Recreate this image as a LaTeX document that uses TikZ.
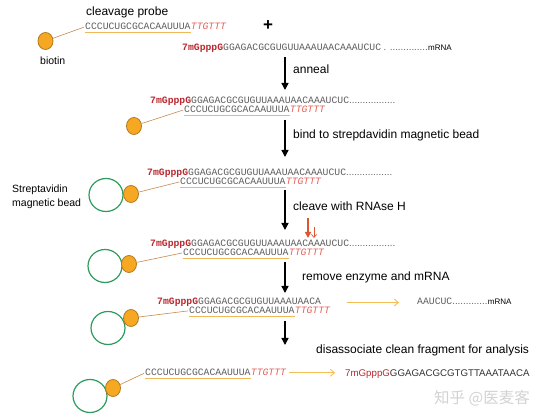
\documentclass[tikz,border=0pt]{standalone}
\usepackage{fontspec}
\setmainfont{Liberation Sans}
\newfontfamily\seqfont{Liberation Mono}
\newfontfamily\cjkfont{Noto Sans CJK SC}
\usetikzlibrary{arrows.meta,shapes.geometric}
\definecolor{capred}{HTML}{B8282E}
\definecolor{tred}{HTML}{E0605A}
\definecolor{seqgray}{HTML}{5E5E5E}
\definecolor{biofill}{HTML}{F7A823}
\definecolor{biodraw}{HTML}{B07A1E}
\definecolor{beadgreen}{HTML}{2E9B5E}
\definecolor{tethercol}{HTML}{C8884A}
\definecolor{ulcol}{HTML}{F0B85A}
\definecolor{oarrowcol}{HTML}{F2BE55}
\definecolor{cutred}{HTML}{E0552E}
\newcommand{\capg}{{\bfseries\color{capred}7mGpppG}}
\tikzset{
  seq/.style={font=\seqfont\fontsize{9.75}{10}\selectfont, text=seqgray, inner sep=0pt, anchor=base west},
  tseq/.style={font=\seqfont\itshape\fontsize{9.75}{10}\selectfont, text=tred, inner sep=0pt, anchor=base west},
  lab/.style={font=\fontsize{12}{14}\selectfont, inner sep=0pt, anchor=base west},
  smalllab/.style={font=\fontsize{8}{9}\selectfont, inner sep=0pt, anchor=base west},
  bio/.style={ellipse, draw=biodraw, fill=biofill, line width=0.8pt, minimum width=15pt, minimum height=17pt, inner sep=0pt},
  bead/.style={ellipse, draw=beadgreen, line width=1.2pt, minimum width=34pt, minimum height=33pt, inner sep=0pt},
  tetherline/.style={draw=tethercol, line width=0.6pt, shorten >=1pt},
  ul/.style={draw=ulcol, line width=0.8pt},
  flow/.style={-{Triangle[width=7pt,length=7pt]}, line width=1.4pt},
  oarr/.style={draw=oarrowcol, line width=0.9pt, -{Straight Barb[length=4pt,width=7pt]}},
}
\begin{document}
\begin{tikzpicture}[x=1pt,y=-1pt]
\useasboundingbox (0,0) rectangle (554,419);

% ---------- panel 1
\node[lab] (title) at (86,16) {cleavage probe};
\node[seq] (p1) at (85,30) {CCCUCUGCGCACAAUUUA};
\node[tseq] (p1t) at (p1.base east) {TTGTTT};
\draw[ul] ([yshift=-2pt]p1.base west) -- ([yshift=-2pt]p1.base east);
\node[bio] (b1) at (45.5,41) {};
\draw[tetherline] (b1) -- (p1.west);
\node[font=\fontsize{10.5}{12}\selectfont, inner sep=0pt, anchor=base west] (biotinlbl) at (40,65) {biotin};
\node[font=\bfseries\fontsize{17}{17}\selectfont, inner sep=0pt] (plus) at (268,26) {+};
\node[seq] (m1) at (182,51) {\capg GGAGACGCGUGUUAAAUAACAAAUCUC};
\node[seq, font=\fontsize{9.75}{10}\selectfont] (d1) at ([xshift=2pt]m1.base east) {. ..............};
\node[smalllab] (mr1) at (d1.base east) {mRNA};

\coordinate (a1s) at (285,57);
\coordinate (a1e) at (285,90);
\draw[flow] (a1s) -- (a1e);
\node[lab] (l1) at (293,74) {anneal};

% ---------- panel 2
\node[seq] (m2) at (150,104) {\capg GGAGACGCGUGUUAAAUAACAAAUCUC{\normalfont .................}};
\node[seq] (p2) at (184,113) {CCCUCUGCGCACAAUUUA};
\node[tseq] (p2t) at (p2.base east) {TTGTTT};
\draw[ul] ([yshift=-2pt]p2.base west) -- ([yshift=-2pt]p2.base east);
\node[bio] (b2) at (134,126) {};
\draw[tetherline] (b2) -- (p2.west);

\coordinate (a2s) at (285,120);
\coordinate (a2e) at (285,157);
\draw[flow] (a2s) -- (a2e);
\node[lab] (l2) at (293,139) {bind to strepdavidin magnetic bead};

% ---------- panel 3
\node[font=\fontsize{10.5}{14}\selectfont, inner sep=0pt, anchor=west, align=left] (sbl) at (12,196.5) {Streptavidin\\magnetic bead};
\node[bead] (g3) at (106,195) {};
\node[bio] (b3) at (131,194) {};
\node[seq] (m3) at (147,176) {\capg GGAGACGCGUGUUAAAUAACAAAUCUC{\normalfont .................}};
\node[seq] (p3) at (180,185) {CCCUCUGCGCACAAUUUA};
\node[tseq] (p3t) at (p3.base east) {TTGTTT};
\draw[ul] ([yshift=-2pt]p3.base west) -- ([yshift=-2pt]p3.base east);
\draw[tetherline] (b3) -- (p3.west);

\coordinate (a3s) at (285,190);
\coordinate (a3e) at (285,230);
\draw[flow] (a3s) -- (a3e);
\node[lab] (l3) at (293,211) {cleave with RNAse H};

% ---------- panel 4
\coordinate (c1s) at (308,218);
\coordinate (c1e) at (308,238);
\draw[cutred, line width=1.8pt, -{Triangle[width=6pt,length=6pt]}] (c1s) -- (c1e);
\coordinate (c2s) at (314,227);
\coordinate (c2e) at (314,238);
\draw[cutred, line width=0.7pt, -{Straight Barb[length=3pt,width=5pt]}] (c2s) -- (c2e);
\node[seq] (m4) at (150,247) {\capg GGAGACGCGUGUUAAAUAACAAAUCUC{\normalfont .................}};
\node[seq] (p4) at (183,256) {CCCUCUGCGCACAAUUUA};
\node[tseq] (p4t) at (p4.base east) {TTGTTT};
\draw[ul] ([yshift=-2pt]p4.base west) -- ([yshift=-2pt]p4.base east);
\node[bead] (g4) at (105,266) {};
\node[bio] (b4) at (129,264) {};
\draw[tetherline] (b4) -- (p4.west);

\coordinate (a4s) at (285,262);
\coordinate (a4e) at (285,293);
\draw[flow] (a4s) -- (a4e);
\node[lab] (l4) at (302,281) {remove enzyme and mRNA};

% ---------- panel 5
\node[seq] (m5) at (157,305) {\capg GGAGACGCGUGUUAAAUAACA};
\node[seq] (p5) at (189,314) {CCCUCUGCGCACAAUUUA};
\node[tseq] (p5t) at (p5.base east) {TTGTTT};
\draw[ul] ([yshift=-2pt]p5.base west) -- ([yshift=-2pt]p5.base east);
\node[bead] (g5) at (108,328) {};
\node[bio] (b5) at (131,318) {};
\draw[tetherline] (b5) -- (p5.west);
\node[seq] (r5) at (417,305) {AAUCUC{\normalfont .............}};
\node[smalllab] (mr5) at (r5.base east) {mRNA};
\coordinate (o5s) at (347,302.5);
\draw[oarr, shorten >=18pt] (o5s) -- (o5s -| r5.west);

\coordinate (a5s) at (285,321);
\coordinate (a5e) at (285,345);
\draw[flow] (a5s) -- (a5e);
\node[lab] (l5) at (316,354) {disassociate clean fragment for analysis};

% ---------- panel 6
\node[seq] (p6) at (145,376) {CCCUCUGCGCACAAUUUA};
\node[tseq] (p6t) at (p6.base east) {TTGTTT};
\draw[ul] ([yshift=-2pt]p6.base west) -- ([yshift=-2pt]p6.base east);
\node[bead] (g6) at (90,396) {};
\node[bio] (b6) at (113,388) {};
\draw[tetherline] (b6) -- (p6.west);
\node[font=\fontsize{9.7}{10}\selectfont, text=black!80, inner sep=0pt, anchor=base west] (f6) at (345,377) {{\color{capred}7mGpppG}GGAGACGCGTGTTAAATAACA};
\draw[oarr, shorten <=3pt, shorten >=10pt] (p6t.east) -- (p6t.east -| f6.west);

% watermark
\node[font=\cjkfont\fontsize{15.5}{15.5}\selectfont, text=gray!35, inner sep=0pt, anchor=west] (wm) at (434,398) {知乎 @医麦客};
\end{tikzpicture}
\end{document}
